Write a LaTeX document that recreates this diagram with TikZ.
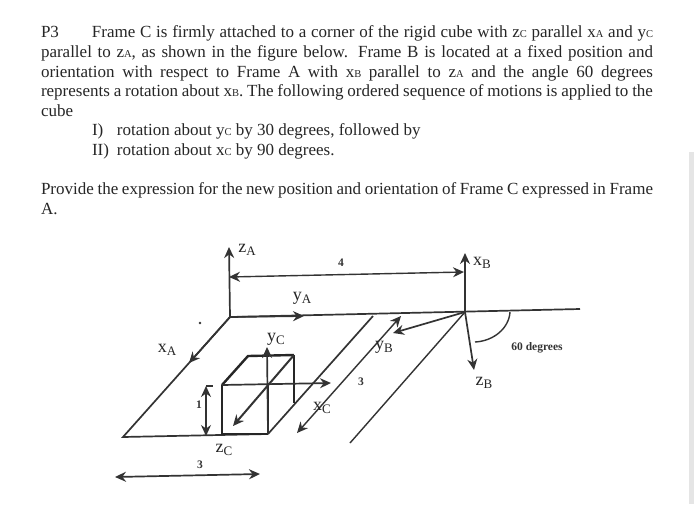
\documentclass[tikz,border=0pt]{standalone}
\usepackage{fontspec}
\setmainfont{Liberation Serif}
\usetikzlibrary{arrows.meta,calc}
\newcommand{\subc}[1]{{\fontsize{10.5}{10.5}\selectfont #1}}
\newcommand{\lbsub}[1]{\raisebox{-3pt}{\fontsize{13}{13}\selectfont #1}}
\tikzset{
  txt/.style={anchor=base west,inner sep=0pt,outer sep=0pt,font=\fontsize{17}{18}\selectfont,text=black!85},
  lbl/.style={inner sep=0pt,font=\fontsize{18}{18}\selectfont,text=black!85},
  small lbl/.style={inner sep=0pt,font=\fontsize{11.5}{12}\selectfont\bfseries,text=black!80},
  ln/.style={draw=black!80,line width=1.7pt},
  thin ln/.style={draw=black!80,line width=1.4pt},
  cube/.style={draw=black!85,line width=2.4pt},
  arr/.style={-{Stealth[length=11pt,width=10pt]}},
  tarr/.style={{Stealth[length=11pt,width=10pt]}-{Stealth[length=11pt,width=10pt]}},
}
\begin{document}
\begin{tikzpicture}[x=1pt,y=-1pt]
\useasboundingbox (0,0) rectangle (700,504);
\fill[white] (0,0) rectangle (700,504);
\fill[black!10] (689,152) rectangle (694,504);
% text
\node[txt] (l1) at (41,37) {\makebox[612pt][s]{P3\hspace{33pt}Frame C is firmly attached to a corner of the rigid cube with z\subc{C} parallel x\subc{A} and y\subc{C}}};
\node[txt] (l2) at (41,57) {\makebox[612pt][s]{parallel to z\subc{A}, as shown in the figure below. Frame B is located at a fixed position and}};
\node[txt] (l3) at (41,77) {\makebox[612pt][s]{orientation with respect to Frame A with x\subc{B} parallel to z\subc{A} and the angle 60 degrees}};
\node[txt] (l4) at (41,96) {\makebox[612pt][s]{represents a rotation about x\subc{B}. The following ordered sequence of motions is applied to the}};
\node[txt] (l5) at (41,116) {cube};
\node[txt] (l6) at (92,135) {\makebox[25pt][l]{I)}rotation about y\subc{C} by 30 degrees, followed by};
\node[txt] (l7) at (92,155) {\makebox[25pt][l]{II)}rotation about x\subc{C} by 90 degrees.};
\node[txt] (l8) at (41,194) {\makebox[612pt][s]{Provide the expression for the new position and orientation of Frame C expressed in Frame}};
\node[txt] (l9) at (41,214) {A.};
% key points
\coordinate (OA) at (230,317);
\coordinate (zAt) at (229,247);
\coordinate (d4l) at (229,277);
\coordinate (d4r) at (464,272);
\coordinate (OB) at (465,312);
\coordinate (xBt) at (465,253);
\coordinate (hr) at (580,309);
\coordinate (bl) at (123,437);
\coordinate (br) at (268,434);
\coordinate (p1) at (373,316);
\coordinate (xCb) at (297,433);
\coordinate (xCt) at (401,316);
\coordinate (p3) at (350,443);
\coordinate (yBt) at (393,333);
\coordinate (zBt) at (474,370);
% plane and frames
\draw[ln,arr] (OA) -- (zAt);
\draw[thin ln,tarr] (d4l) -- (d4r);
\draw[ln] (OA) -- (hr);
\draw[ln,arr] (OA) -- (304,316);
\draw[ln] (OA) -- (bl) -- (br);
\draw[ln,arr] (OA) -- (189,363);
\draw[ln] (br) -- (p1);
\draw[thin ln,tarr] (xCb) -- (xCt);
\draw[thin ln] (OB) -- (p3);
\draw[ln,arr] (OB) -- (xBt);
\draw[ln,arr] (OB) -- (zBt);
\draw[ln,arr] (OB) -- (yBt);
\draw[thin ln] (510,312) .. controls (509,328) and (494,341) .. (475,342);
% cube
\coordinate (c1) at (222,385);
\coordinate (c2) at (268,385);
\coordinate (c3) at (268,434);
\coordinate (c4) at (222,434);
\coordinate (c5) at (248,356);
\coordinate (c6) at (294,355);
\coordinate (c7) at (294,403);
\draw[cube] (c1) -- (c4) -- (c3);
\draw[cube,line width=1.8pt] (c3) -- (c2);
\draw[cube] (c1) -- (c5) -- (c6);
\draw[cube,line width=1.8pt] (c6) -- (c7);
\draw[ln,arr] (c1) -- (331,383);
\draw[ln,arr] (c3) -- (267,347);
\draw[ln,arr,line width=2pt] (c6) -- (233,426);
% dimension 1, 3
\coordinate (d1t) at (206,386);
\coordinate (d1b) at (206,436);
\draw[thin ln,tarr] (d1t) -- (d1b);
\draw[thin ln] (d1t) -- (213,386);
\coordinate (d3l) at (115,477);
\coordinate (d3r) at (260,474);
\draw[ln,tarr] (d3l) -- (d3r);
% dot
\fill[black!80] (200,323) circle (1.3pt);
% labels
\node[lbl] (zA) at (247,250) {z\lbsub{A}};
\node[lbl] (yA) at (302,298) {y\lbsub{A}};
\node[lbl] (xA) at (167,350) {x\lbsub{A}};
\node[lbl] (yC) at (276,339) {y\lbsub{C}};
\node[lbl] (xC) at (322,408) {x\lbsub{C}};
\node[lbl] (zC) at (224,450) {z\lbsub{C}};
\node[lbl] (xB) at (482,263) {x\lbsub{B}};
\node[lbl] (yB) at (384,347) {y\lbsub{B}};
\node[lbl] (zB) at (484,383) {z\lbsub{B}};
\node[small lbl] (n4) at (341,263) {4};
\node[small lbl] (n1) at (199,405) {1};
\node[small lbl] (n3a) at (200,465) {3};
\node[small lbl] (n3b) at (361,382) {3};
\node[small lbl] (deg) at (537,348) {60 degrees};
\end{tikzpicture}
\end{document}
